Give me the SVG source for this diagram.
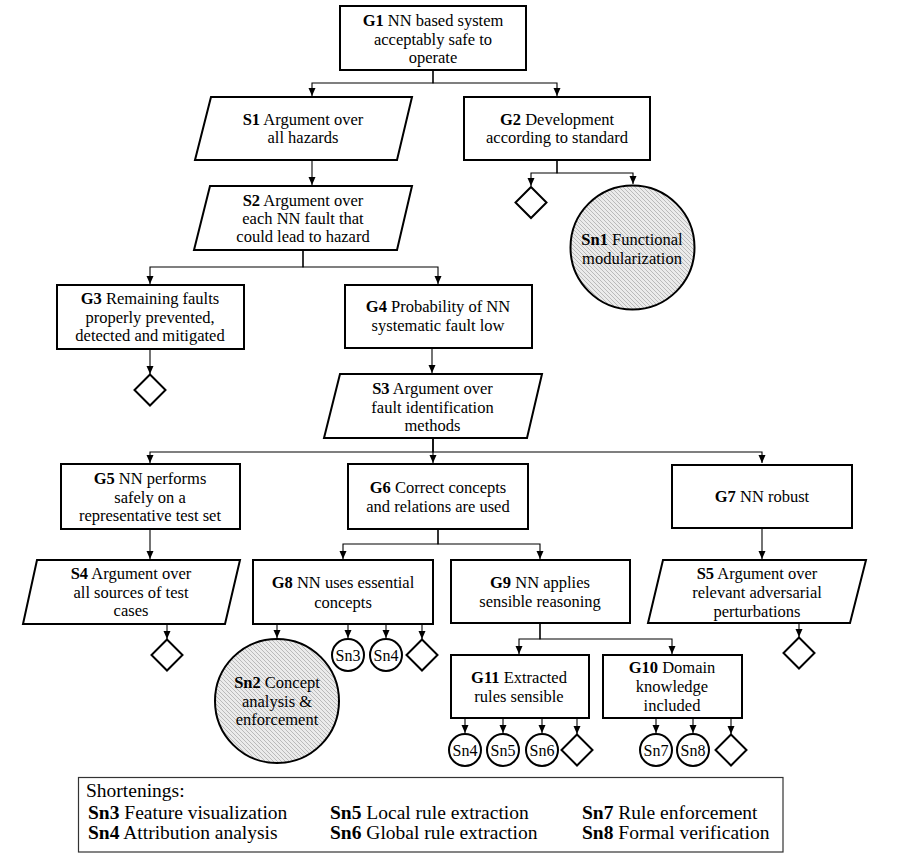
<svg xmlns="http://www.w3.org/2000/svg" width="905" height="861" viewBox="0 0 905 861">
<style>
.box{fill:#fff;stroke:#000;stroke-width:2}
.hatch{fill:url(#hatch);stroke:#000;stroke-width:2}
.sn{fill:#fff;stroke:#000;stroke-width:2}
.con{fill:none;stroke:#000;stroke-width:1.1;marker-end:url(#arr)}
text{font-family:"Liberation Serif","Times New Roman",serif;font-size:16.5px;fill:#000;text-anchor:middle}
.b{font-weight:bold}
.small{font-size:16px}
.leg{font-size:19.5px;text-anchor:start}
</style>
<defs>
<marker id="arr" markerUnits="userSpaceOnUse" markerWidth="8" markerHeight="8" refX="8" refY="3.5" orient="auto">
<path d="M0,0 L8,3.5 L0,7 z" fill="#000"/>
</marker>
<pattern id="hatch" patternUnits="userSpaceOnUse" width="4" height="4">
<rect width="4" height="4" fill="#ebebeb"/>
<path d="M-1,-1 L5,5 M-1,3 L1,5 M3,-1 L5,1" stroke="#999" stroke-width="0.6"/>
</pattern>
</defs>

<g id="connectors">
<path class="con" d="M433,70 V83 H312 V96"/>
<path class="con" d="M433,70 V83 H557 V96"/>
<path class="con" d="M312,160 V185"/>
<path class="con" d="M557,160 V173 H531 V186"/>
<path class="con" d="M557,160 V173 H633 V184"/>
<path class="con" d="M303,250 V267 H150 V284"/>
<path class="con" d="M303,250 V267 H438 V284"/>
<path class="con" d="M150,349 V374"/>
<path class="con" d="M432,348 V373"/>
<path class="con" d="M433,438 V452 H150 V463"/>
<path class="con" d="M433,438 V463"/>
<path class="con" d="M433,438 V452 H762 V463"/>
<path class="con" d="M150,529 V559"/>
<path class="con" d="M167,624 V639"/>
<path class="con" d="M438,529 V544 H343 V559"/>
<path class="con" d="M438,529 V544 H540 V559"/>
<path class="con" d="M277,624 V638"/>
<path class="con" d="M348,624 V638"/>
<path class="con" d="M386,624 V638"/>
<path class="con" d="M422,624 V639"/>
<path class="con" d="M762,528 V559"/>
<path class="con" d="M799,623 V637"/>
<path class="con" d="M540,623 V639 H519 V654"/>
<path class="con" d="M540,623 V639 H672 V654"/>
<path class="con" d="M465,718 V733"/>
<path class="con" d="M503,718 V733"/>
<path class="con" d="M542,718 V733"/>
<path class="con" d="M577,718 V734"/>
<path class="con" d="M656,718 V733"/>
<path class="con" d="M693,718 V733"/>
<path class="con" d="M731,718 V734"/>
</g>

<g id="G1"><rect class="box" x="340" y="6" width="186" height="64"/>
<text x="433" y="26"><tspan class="b">G1</tspan> NN based system</text>
<text x="433" y="44.5">acceptably safe to</text>
<text x="433" y="63">operate</text></g>

<g id="S1"><polygon class="box" points="211,97 412,97 397,160 195,160"/>
<text x="303" y="125"><tspan class="b">S1</tspan> Argument over</text>
<text x="303" y="143">all hazards</text></g>

<g id="G2"><rect class="box" x="464" y="97" width="186" height="63"/>
<text x="557" y="125"><tspan class="b">G2</tspan> Development</text>
<text x="557" y="143">according to standard</text></g>

<g id="U1"><polygon class="box" points="531,187 546.5,202.5 531,218 515.5,202.5"/></g>

<g id="Sn1"><circle class="hatch" cx="632.5" cy="247.5" r="62"/>
<text x="632" y="245"><tspan class="b">Sn1</tspan> Functional</text>
<text x="632" y="264">modularization</text></g>

<g id="S2"><polygon class="box" points="210,186 412,186 397,250 194,250"/>
<text x="303" y="206"><tspan class="b">S2</tspan> Argument over</text>
<text x="303" y="224">each NN fault that</text>
<text x="303" y="242">could lead to hazard</text></g>

<g id="G3"><rect class="box" x="57" y="285" width="187" height="64"/>
<text x="150" y="304"><tspan class="b">G3</tspan> Remaining faults</text>
<text x="150" y="322.5">properly prevented,</text>
<text x="150" y="341">detected and mitigated</text></g>

<g id="U2"><polygon class="box" points="150,374.5 165.5,390 150,405.5 134.5,390"/></g>

<g id="G4"><rect class="box" x="345" y="285" width="187" height="63"/>
<text x="438" y="312"><tspan class="b">G4</tspan> Probability of NN</text>
<text x="438" y="330.5">systematic fault low</text></g>

<g id="S3"><polygon class="box" points="340,374 542,374 527,438 324,438"/>
<text x="432.5" y="394"><tspan class="b">S3</tspan> Argument over</text>
<text x="432.5" y="412.5">fault identification</text>
<text x="432.5" y="431">methods</text></g>

<g id="G5"><rect class="box" x="61" y="464" width="179" height="65"/>
<text x="150" y="484"><tspan class="b">G5</tspan> NN performs</text>
<text x="150" y="502.5">safely on a</text>
<text x="150" y="521">representative test set</text></g>

<g id="G6"><rect class="box" x="348" y="464" width="180" height="65"/>
<text x="438" y="493"><tspan class="b">G6</tspan> Correct concepts</text>
<text x="438" y="511.5">and relations are used</text></g>

<g id="G7"><rect class="box" x="672" y="465" width="180" height="63"/>
<text x="762" y="502"><tspan class="b">G7</tspan> NN robust</text></g>

<g id="S4"><polygon class="box" points="37,560 240,560 225,624 23,624"/>
<text x="131" y="579"><tspan class="b">S4</tspan> Argument over</text>
<text x="131" y="597.5">all sources of test</text>
<text x="131" y="616">cases</text></g>

<g id="U3"><polygon class="box" points="167,639.5 182.5,655 167,670.5 151.5,655"/></g>

<g id="G8"><rect class="box" x="253" y="560" width="180" height="64"/>
<text x="343" y="588"><tspan class="b">G8</tspan> NN uses essential</text>
<text x="343" y="607.5">concepts</text></g>

<g id="Sn2"><circle class="hatch" cx="277" cy="701" r="62"/>
<text x="277" y="688"><tspan class="b">Sn2</tspan> Concept</text>
<text x="277" y="707">analysis &amp;</text>
<text x="277" y="725">enforcement</text></g>

<g id="Sn3a"><circle class="sn" cx="348" cy="655" r="16"/><text class="small" x="348" y="660.5">Sn3</text></g>
<g id="Sn4a"><circle class="sn" cx="386" cy="655" r="16"/><text class="small" x="386" y="660.5">Sn4</text></g>
<g id="U4"><polygon class="box" points="422,639.5 437.5,655 422,670.5 406.5,655"/></g>

<g id="G9"><rect class="box" x="451" y="560" width="179" height="63"/>
<text x="540" y="588"><tspan class="b">G9</tspan> NN applies</text>
<text x="540" y="607">sensible reasoning</text></g>

<g id="S5"><polygon class="box" points="663,560 866,560 850,623 648,623"/>
<text x="757" y="579"><tspan class="b">S5</tspan> Argument over</text>
<text x="757" y="597.5">relevant adversarial</text>
<text x="757" y="616.5">perturbations</text></g>

<g id="U5"><polygon class="box" points="799,637.5 814.5,653 799,668.5 783.5,653"/></g>

<g id="G11"><rect class="box" x="451" y="655" width="138" height="63"/>
<text x="519" y="682.5"><tspan class="b">G11</tspan> Extracted</text>
<text x="519" y="701.5">rules sensible</text></g>

<g id="G10"><rect class="box" x="603" y="655" width="139" height="63"/>
<text x="672" y="673"><tspan class="b">G10</tspan> Domain</text>
<text x="672" y="691.5">knowledge</text>
<text x="672" y="710.5">included</text></g>

<g id="Sn4b"><circle class="sn" cx="465" cy="750" r="16"/><text class="small" x="465" y="755.5">Sn4</text></g>
<g id="Sn5"><circle class="sn" cx="503" cy="750" r="16"/><text class="small" x="503" y="755.5">Sn5</text></g>
<g id="Sn6"><circle class="sn" cx="542" cy="750" r="16"/><text class="small" x="542" y="755.5">Sn6</text></g>
<g id="U6"><polygon class="box" points="577,734.5 592.5,750 577,765.5 561.5,750"/></g>
<g id="Sn7"><circle class="sn" cx="656" cy="750" r="16"/><text class="small" x="656" y="755.5">Sn7</text></g>
<g id="Sn8"><circle class="sn" cx="693" cy="750" r="16"/><text class="small" x="693" y="755.5">Sn8</text></g>
<g id="U7"><polygon class="box" points="731,734.5 746.5,750 731,765.5 715.5,750"/></g>

<g id="legend">
<rect x="78.5" y="777.5" width="704.5" height="74.5" fill="#fff" stroke="#333" stroke-width="1.2"/>
<text class="leg" x="86" y="797">Shortenings:</text>
<text class="leg" x="88" y="818.5"><tspan class="b">Sn3</tspan> Feature visualization</text>
<text class="leg" x="88" y="839"><tspan class="b">Sn4</tspan> Attribution analysis</text>
<text class="leg" x="330" y="818.5"><tspan class="b">Sn5</tspan> Local rule extraction</text>
<text class="leg" x="330" y="839"><tspan class="b">Sn6</tspan> Global rule extraction</text>
<text class="leg" x="582" y="818.5"><tspan class="b">Sn7</tspan> Rule enforcement</text>
<text class="leg" x="582" y="839"><tspan class="b">Sn8</tspan> Formal verification</text>
</g>
</svg>
